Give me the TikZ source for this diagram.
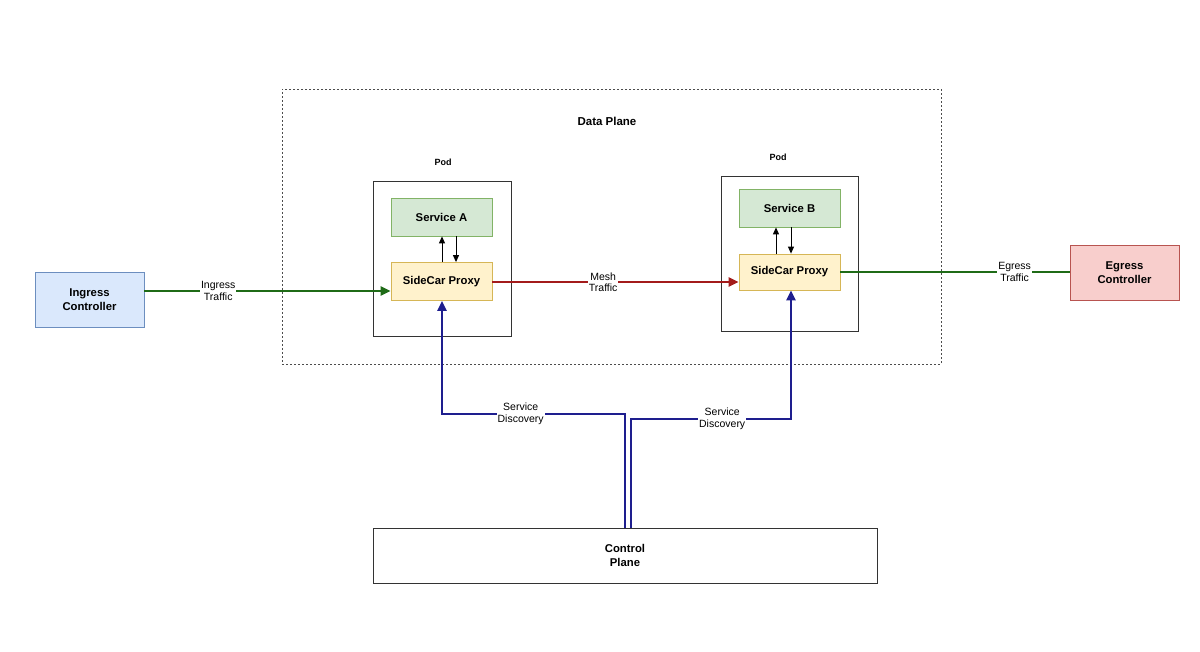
\documentclass[tikz,border=0pt]{standalone}
\usepackage{fontspec}
\setmainfont{Liberation Sans}
\usetikzlibrary{arrows.meta}
\definecolor{gfill}{HTML}{D5E8D4}\definecolor{gline}{HTML}{82B366}
\definecolor{yfill}{HTML}{FFF2CC}\definecolor{yline}{HTML}{D6B656}
\definecolor{bfill}{HTML}{DAE8FC}\definecolor{bline}{HTML}{6C8EBF}
\definecolor{rfill}{HTML}{F8CECC}\definecolor{rline}{HTML}{B85450}
\definecolor{flowgreen}{HTML}{1F6B17}
\definecolor{flowred}{HTML}{A31B1B}
\definecolor{flowblue}{HTML}{1E1E8E}
\definecolor{boxgray}{HTML}{333333}
\tikzset{
  box/.style={draw, line width=0.8pt, minimum width=#1, inner sep=0pt, align=center, font=\fontsize{11.3}{13.5}\selectfont\bfseries},
  svc/.style={box=101pt, fill=gfill, draw=gline, minimum height=38pt},
  proxy/.style={box=101pt, fill=yfill, draw=yline},
  pod/.style={draw=boxgray, line width=0.9pt, minimum width=138pt, minimum height=155pt, inner sep=0pt},
  title/.style={font=\fontsize{9}{11}\selectfont\bfseries},
  lbl/.style={fill=white, inner sep=1pt, align=center, font=\fontsize{10.5}{11.5}\selectfont},
  flow/.style={line width=2.2pt},
  small/.style={-{Triangle[length=7pt,width=6pt]}, line width=1pt}
}
\begin{document}
\begin{tikzpicture}[x=1pt,y=-1pt]
\useasboundingbox (0,0) rectangle (1200,652);
% data plane
\node[draw=black!70, dash pattern=on 2pt off 2pt, line width=0.8pt, minimum width=659pt, minimum height=275pt, inner sep=0pt] (dp) at (611.5,226.5) {};
\node[font=\fontsize{11.5}{13}\selectfont\bfseries] (dplbl) at (607,121) {Data Plane};
% pods
\node[pod] (podA) at (442,258.5) {};
\node[pod, minimum width=137pt] (podB) at (789.5,253.5) {};
\node[title] (podAl) at (443,162) {Pod};
\node[title] (podBl) at (778,157) {Pod};
% services and proxies
\node[svc] (svcA) at (441.5,217) {Service A};
\node[proxy, minimum height=38pt] (proxA) at (441.5,281.5) {SideCar Proxy};
\node[svc] (svcB) at (789.5,208) {Service B};
\node[proxy, minimum height=36pt] (proxB) at (789.5,272) {SideCar Proxy};
% controllers
\node[box=109pt, minimum height=55pt, fill=bfill, draw=bline] (ing) at (89.5,299.5) {Ingress\\Controller};
\node[box=109pt, minimum height=55pt, fill=rfill, draw=rline] (egr) at (1124.5,272.5) {Egress\\Controller};
\node[box=504pt, minimum height=55pt, draw=boxgray] (cp) at (625,555.5) {Control\\Plane};
% small arrows
\draw[small] (proxA.north -| 442,0) -- (svcA.south -| 442,0);
\draw[small] (svcA.south -| 456,0) -- (proxA.north -| 456,0);
\draw[small] (proxB.north -| 776,0) -- (svcB.south -| 776,0);
\draw[small] (svcB.south -| 791,0) -- (proxB.north -| 791,0);
% ingress traffic
\draw[flow, draw=flowgreen, -{Triangle[length=10pt,width=9pt,fill=flowgreen]}] (ing.east |- 0,291) -- node[lbl, pos=0.3] (ingl) {Ingress\\Traffic} (proxA.west |- 0,291);
% mesh traffic
\draw[flow, draw=flowred, -{Triangle[length=10pt,width=9pt,fill=flowred]}] (proxA.east |- 0,282) -- node[lbl, pos=0.45] (meshl) {Mesh\\Traffic} (proxB.west |- 0,282);
% egress traffic
\draw[flow, draw=flowgreen] (proxB.east |- 0,272) -- node[lbl, pos=0.76] (egrl) {Egress\\Traffic} (egr.west |- 0,272);
% service discovery
\coordinate (c1) at (625,414);
\coordinate (c2) at (442,414);
\coordinate (c3) at (631,419);
\coordinate (c4) at (791,419);
\draw[flow, draw=flowblue, -{Triangle[length=10pt,width=9pt,fill=flowblue]}] (cp.north -| c1) -- (c1) -- node[lbl, pos=0.57] (sd1) {Service\\Discovery} (c2) -- (proxA.south -| c2);
\draw[flow, draw=flowblue, -{Triangle[length=10pt,width=9pt,fill=flowblue]}] (cp.north -| c3) -- (c3) -- node[lbl, pos=0.57] (sd2) {Service\\Discovery} (c4) -- (proxB.south -| c4);
\end{tikzpicture}
\end{document}
